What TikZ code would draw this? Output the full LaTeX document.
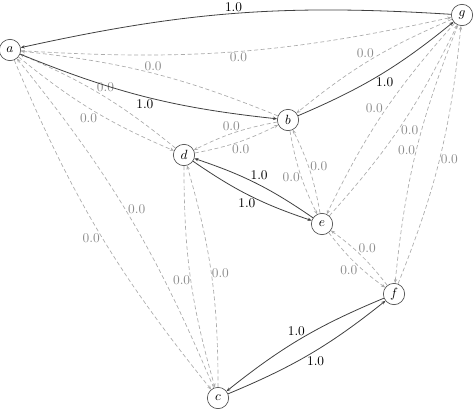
\documentclass[tikz,border=0pt]{standalone}
\usetikzlibrary{arrows.meta,calc}
\newcommand\elab[5]{%
  \draw[#1] (#2) to coordinate[pos=0.5] (m#2#3) (#3);
  \node[#1lb] (l#2#3) at ($(m#2#3)!#5pt!-90:(#3)$) {#4};
}
\begin{document}
\begin{tikzpicture}[x=0.75pt,y=0.75pt,
  vtx/.style={circle,draw=black!70,fill=white,line width=0.5pt,minimum size=16pt,inner sep=0pt,font=\normalsize},
  sol/.style={draw=black!75,line width=0.6pt,-{Stealth[length=3pt,width=2.5pt]},bend right=8},
  dsh/.style={draw=black!33,line width=0.5pt,dash pattern=on 3pt off 2pt,-{Stealth[length=3pt,width=2.5pt]},bend right=8},
  sollb/.style={inner sep=0pt,text=black,font=\normalsize},
  dshlb/.style={inner sep=0pt,text=black!45,font=\normalsize}
]
\useasboundingbox (0,0) rectangle (474,408);
\node[vtx] (a) at (10,358) {$a$};
\node[vtx] (g) at (462,393) {$g$};
\node[vtx] (b) at (288,288) {$b$};
\node[vtx] (d) at (184,253) {$d$};
\node[vtx] (e) at (322,184) {$e$};
\node[vtx] (f) at (394,114) {$f$};
\node[vtx] (c) at (218,10) {$c$};
% dashed edges
\elab{dsh}{a}{g}{0.0}{4.5}
\elab{dsh}{b}{a}{0.0}{5.2}
\elab{dsh}{g}{b}{0.0}{6.5}
\elab{dsh}{a}{d}{0.0}{6.5}
\elab{dsh}{d}{a}{0.0}{6.5}
\elab{dsh}{a}{c}{0.0}{7.4}
\elab{dsh}{c}{a}{0.0}{7.4}
\elab{dsh}{d}{b}{0.0}{5.6}
\elab{dsh}{b}{d}{0.0}{5.6}
\elab{dsh}{d}{c}{0.0}{6.8}
\elab{dsh}{c}{d}{0.0}{6.8}
\elab{dsh}{b}{e}{0.0}{7.3}
\elab{dsh}{e}{b}{0.0}{7.3}
\elab{dsh}{g}{e}{0.0}{7.4}
\elab{dsh}{e}{g}{0.0}{7.4}
\elab{dsh}{g}{f}{0.0}{7.1}
\elab{dsh}{f}{g}{0.0}{7.1}
\elab{dsh}{e}{f}{0.0}{7.1}
\elab{dsh}{f}{e}{0.0}{7.1}
% solid edges
\elab{sol}{g}{a}{1.0}{4.5}
\elab{sol}{a}{b}{1.0}{5.2}
\elab{sol}{b}{g}{1.0}{6.5}
\elab{sol}{d}{e}{1.0}{6.2}
\elab{sol}{e}{d}{1.0}{6.2}
\elab{sol}{c}{f}{1.0}{6.5}
\elab{sol}{f}{c}{1.0}{6.5}
\end{tikzpicture}
\end{document}
